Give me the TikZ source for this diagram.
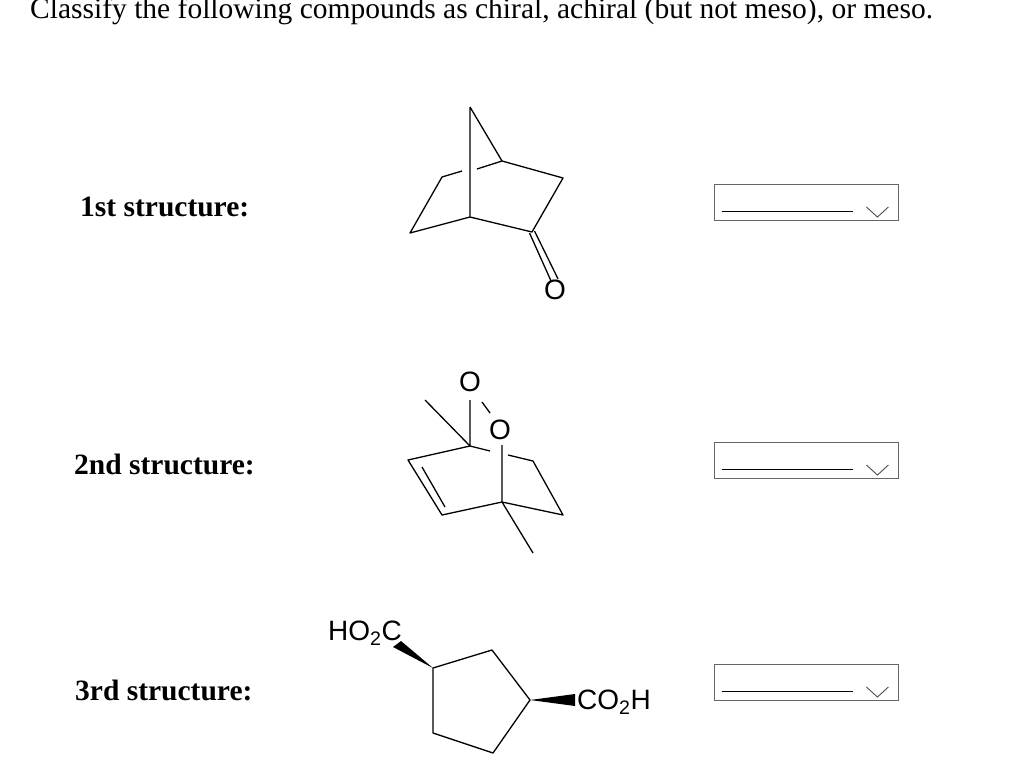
\documentclass[tikz,border=0pt]{standalone}
\usepackage{fontspec}
\usetikzlibrary{calc}
\setmainfont{Liberation Serif}
\newfontfamily\arial{Liberation Sans}
\begin{document}
\begin{tikzpicture}[x=1pt,y=-1pt,
  bond/.style={line width=1.3pt,line join=round},
  atom/.style={font=\arial\fontsize{28}{30}\selectfont,inner sep=0pt},
  lbl/.style={font=\bfseries\fontsize{29.5}{32}\selectfont,anchor=west,inner sep=0pt},
  ddbox/.style={draw=black!60,line width=0.8pt,minimum width=184pt,minimum height=36pt,inner sep=0pt}]
\useasboundingbox (0,0) rectangle (1024,771);
\node[anchor=base west,inner sep=0pt,font=\fontsize{29.5}{32}\selectfont] (title) at (30,18) {Classify the following compounds as chiral, achiral (but not meso), or meso.};
\node[lbl] (l1) at (80,207) {1st structure:};
\node[lbl] (l2) at (74,464) {2nd structure:};
\node[lbl] (l3) at (75,690) {3rd structure:};
% dropdowns
\foreach \n/\y in {d1/202,d2/460,d3/682}{
  \node[ddbox] (\n) at (806,\y) {};
  \draw[line width=0.8pt] ([xshift=8pt,yshift=-9pt]\n.west) -- ++(131,0);
  \draw[line width=0.9pt,black!70] ([xshift=-32pt,yshift=-5pt]\n.east) -- ++(11,10) -- ++(11,-10);
}
% structure 1
\coordinate (a1) at (470,107); \coordinate (a2) at (502,161); \coordinate (a3) at (563,178);
\coordinate (a4) at (532,232); \coordinate (a5) at (470,217); \coordinate (a6) at (410,233);
\coordinate (a7) at (442,177);
\node[atom] (o1) at (555,290) {O};
\draw[bond] (a1)--(a5) (a1)--(a2)--(a3)--(a4)--(a5)--(a6)--(a7)--(462,171) (477,169)--(a2);
\draw[bond] ($(a4)+(-2.5,1)$)--($(o1.north)+(-4,1)$) ($(a4)+(2.5,-1)$)--($(o1.north)+(3,-1)$);
% structure 2
\node[atom] (o2) at (470,382) {O};
\node[atom] (o3) at (500,430) {O};
\coordinate (b1) at (470,446); \coordinate (b2) at (408,460); \coordinate (b3) at (442,515);
\coordinate (b4) at (502,502); \coordinate (b5) at (563,515);
\draw[bond] (b1)--(470,400) (425,400)--(b1) (482,402)--(490,413);
\draw[bond] (b1)--(b2)--(b3)--(b4)--(502,445) (422,467)--(445,507);
\draw[bond] (b1)--(490,451) (508,455)--(533,461)--(b5)--(b4)--(533,553);
% structure 3
\coordinate (c1) at (433,668); \coordinate (c2) at (492,650); \coordinate (c3) at (530,700);
\coordinate (c4) at (493,753); \coordinate (c5) at (433,733);
\draw[bond] (c1)--(c2)--(c3)--(c4)--(c5)--cycle;
\fill (c1) -- (393,647) -- (401,641) -- cycle;
\fill (c3) -- (575,694) -- (575,706) -- cycle;
\node[atom,anchor=east] (h1) at (402,633) {HO\textsubscript{2}C};
\node[atom,anchor=west] (h2) at (577,702) {CO\textsubscript{2}H};
\end{tikzpicture}
\end{document}
